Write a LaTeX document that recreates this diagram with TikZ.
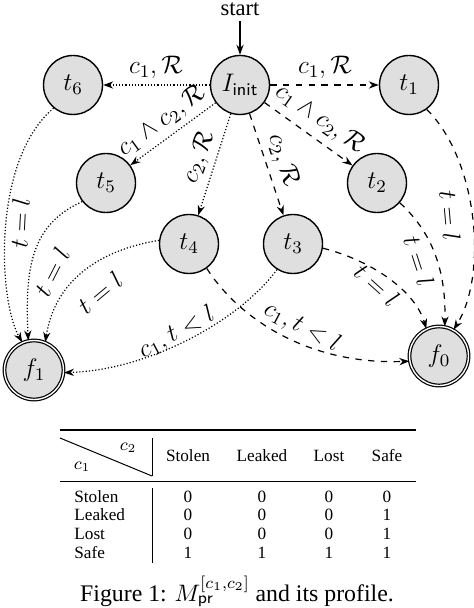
\RequirePackage{fix-cm}
\documentclass[tikz,border=0pt]{standalone}
\usepackage{fontspec}
\setmainfont{Liberation Serif}
\usetikzlibrary{arrows.meta}
\newcommand{\gfont}{\fontsize{12.7}{15}\selectfont}
\newcommand{\tfont}{\fontsize{8.6}{10}\selectfont}
\newcommand{\cfont}{\fontsize{11.9}{14}\selectfont}
\begin{document}
\begin{tikzpicture}[x=0.5pt,y=-0.5pt,
  stt/.style={circle,draw,line width=0.7pt,fill=gray!25,minimum size=29.5pt,inner sep=0pt,font=\gfont},
  acc/.style={circle,draw,line width=0.6pt,double=white,double distance=0.7pt,fill=gray!25,minimum size=29.5pt,inner sep=0pt,font=\gfont},
  arr/.style={line width=0.6pt,-{Stealth[length=5pt,width=3.6pt]}},
  dotarr/.style={arr,dash pattern=on 0.6pt off 1pt},
  dasharr/.style={arr,dash pattern=on 3.2pt off 3.2pt},
  lbl/.style={font=\gfont,inner sep=0pt},
  tt/.style={font=\tfont,inner sep=0pt},
]
\useasboundingbox (0,0) rectangle (474,608);
% nodes
\node[font=\fontsize{11.3}{13}\selectfont,inner sep=0pt,outer sep=2.5pt,anchor=base] (start) at (240,16) {start};
\node[stt] (init) at (240,85) {$I_{\mathsf{init}}$};
\node[stt] (t6) at (73,85) {$t_6$};
\node[stt] (t1) at (409,85) {$t_1$};
\node[stt] (t5) at (106,183) {$t_5$};
\node[stt] (t2) at (377,183) {$t_2$};
\node[stt] (t4) at (189,244) {$t_4$};
\node[stt] (t3) at (293,244) {$t_3$};
\node[acc] (f1) at (34,370) {$f_1$};
\node[acc] (f0) at (439,356) {$f_0$};
% edges
\draw[arr] (start) -- (init);
\draw[dotarr] (init) -- (t6);
\draw[dasharr] (init) -- (t1);
\draw[dotarr] (init) -- (t5);
\draw[dasharr] (init) -- (t2);
\draw[dotarr] (init) -- (t4);
\draw[dasharr] (init) -- (t3);
\draw[dotarr] (t6.230) .. controls (-8,160) and (-2,300) .. (f1.113);
\draw[dotarr] (t5.218) .. controls (30,225) and (25,270) .. (f1.101);
\draw[dotarr] (t4.173) .. controls (100,250) and (55,280) .. (f1.68);
\draw[dotarr] (t3.238) .. controls (240,320) and (150,370) .. (f1.-5);
\draw[dasharr] (t4.306) .. controls (240,320) and (310,365) .. (f0.190);
\draw[dasharr] (t3.-8) .. controls (370,260) and (415,290) .. (f0.115);
\draw[dasharr] (t2.-41) .. controls (435,235) and (446,275) .. (f0.79);
\draw[dasharr] (t1.-54) .. controls (478,160) and (488,275) .. (f0.61);
% labels
\node[lbl] (l1) at (156,67) {$c_1,\mathcal{R}$};
\node[lbl] (l2) at (325,67) {$c_1,\mathcal{R}$};
\node[lbl,rotate=36] (l3) at (162,121) {$c_1\wedge c_2,\mathcal{R}$};
\node[lbl,rotate=-35] (l4) at (320,119) {$c_1\wedge c_2,\mathcal{R}$};
\node[lbl,rotate=70] (l5) at (199,157) {$c_2,\mathcal{R}$};
\node[lbl,rotate=-72] (l6) at (283,160) {$c_2,\mathcal{R}$};
\node[lbl,rotate=87] (l7) at (20,223) {$t=l$};
\node[lbl,rotate=63] (l8) at (52,272) {$t=l$};
\node[lbl,rotate=40] (l9) at (100,293) {$t=l$};
\node[lbl,rotate=28] (l10) at (177,333) {$c_1,t<l$};
\node[lbl,rotate=-28] (l11) at (302,327) {$c_1,t<l$};
\node[lbl,rotate=-42] (l12) at (377,285) {$t=l$};
\node[lbl,rotate=-72] (l13) at (419,261) {$t=l$};
\node[lbl,rotate=-85] (l14) at (450,216) {$t=l$};
% table
\draw[line width=0.8pt] (60,430) -- (416,430);
\draw[line width=0.5pt] (60,481) -- (416,481);
\draw[line width=0.5pt] (60,438) -- (152,476);
\draw[line width=0.5pt] (152,438) -- (152,476);
\draw[line width=0.5pt] (152,488) -- (152,563);
\node[tt] (hc2) at (128,448) {$c_2$};
\node[tt] (hc1) at (82,467) {$c_1$};
\node[tt] (h1) at (188,456) {Stolen};
\node[tt] (h2) at (262,456) {Leaked};
\node[tt] (h3) at (329,456) {Lost};
\node[tt] (h4) at (387,456) {Safe};
\foreach \lab/\yy/\a/\b/\c/\d [count=\i] in {Stolen/497/0/0/0/0,Leaked/515/0/0/0/1,Lost/534/0/0/0/1,Safe/553/1/1/1/1}{
  \node[tt,anchor=west] (r\i) at (74,\yy) {\lab};
  \node[tt] (r\i a) at (188,\yy) {\a};
  \node[tt] (r\i b) at (262,\yy) {\b};
  \node[tt] (r\i c) at (329,\yy) {\c};
  \node[tt] (r\i d) at (387,\yy) {\d};
}
\node[font=\cfont,inner sep=0pt,anchor=base] (cap) at (237,601) {Figure 1: $M_{\mathsf{pr}}^{[c_1,c_2]}$ and its profile.};
\end{tikzpicture}
\end{document}
